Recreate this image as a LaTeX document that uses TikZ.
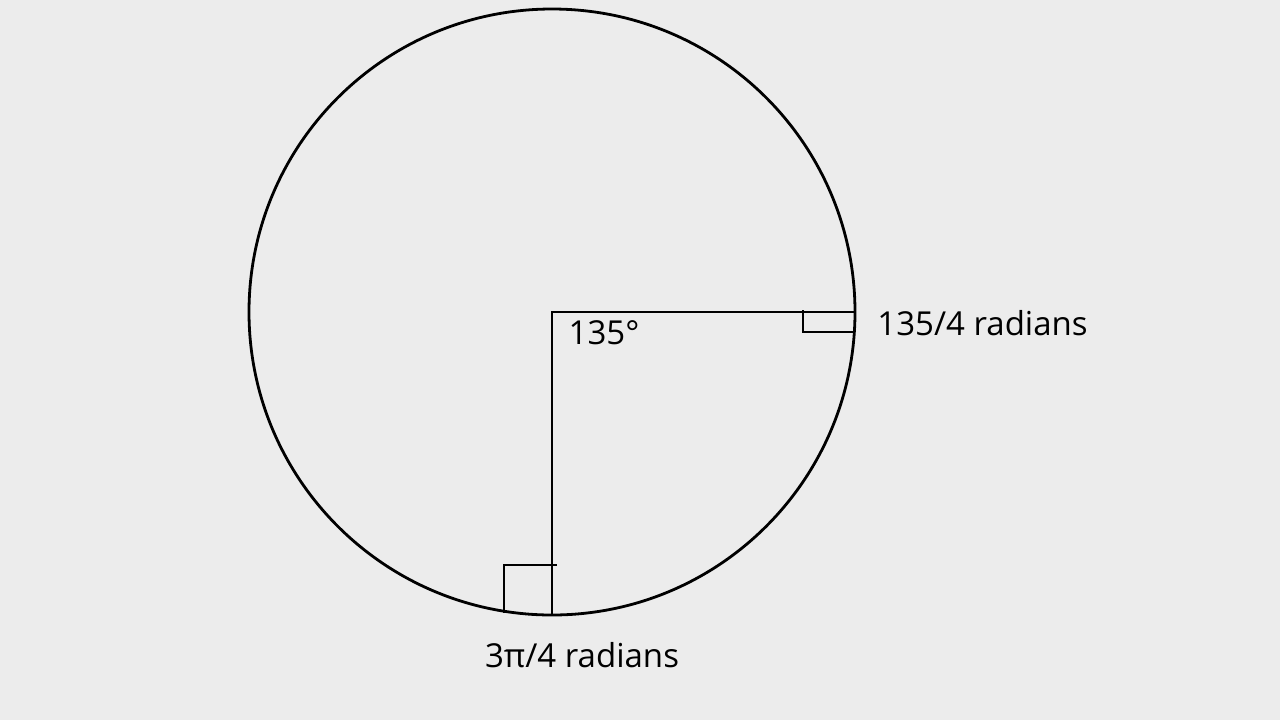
\documentclass[tikz,border=0pt]{standalone}
\usepackage{fontspec}
\setmainfont{Open Sans}
\usetikzlibrary{calc}
\definecolor{paper}{RGB}{236,236,236}

\begin{document}
\begin{tikzpicture}[x=0.5pt, y=-0.5pt, every node/.style={font=\fontsize{16.5}{20}\selectfont, inner sep=0pt}, rim/.style={line width=1.4pt}, leg/.style={line width=0.7pt}]

\fill[paper] (0,0) rectangle (1280,720);

\coordinate (O) at (552,312);
\coordinate (R) at ($(O)+(303,0)$);
\coordinate (B) at ($(O)+(0,303)$);

\draw[rim] (O) circle[radius=303];
\draw[leg] (R) -- (O) -- (B);

% right angle marks
\draw[leg] ($(R)+(-52,-2)$) |- ($(R)+(-2,20)$);
\draw[leg] ($(B)+(5,-50)$) -| ($(B)+(-48,-2)$);

\node (deg) at ($(O)+(52,21)$) {135°};
\node (radR)[anchor=west] at ($(R)+(22,11)$) {135/4 radians};
\node (radB) at ($(B)+(30,40)$) {3π/4 radians};
\end{tikzpicture}
\end{document}
